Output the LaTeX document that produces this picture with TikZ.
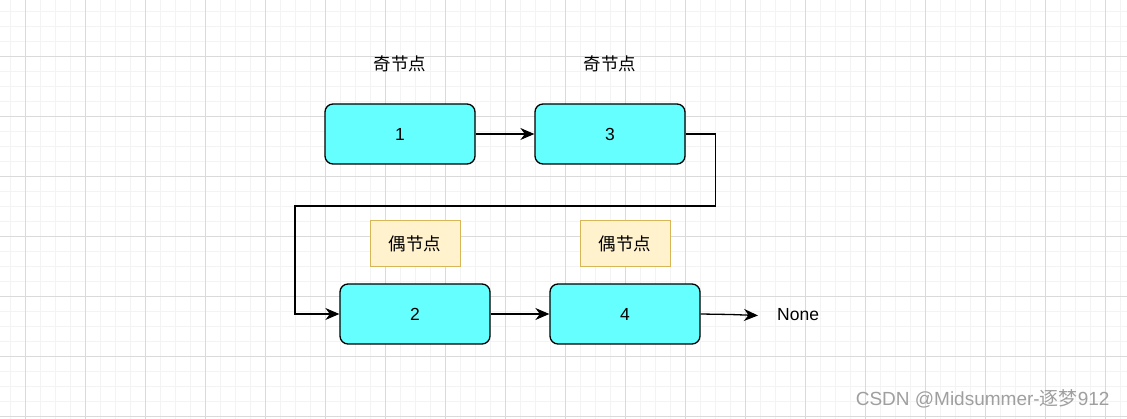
\documentclass[tikz,border=0pt]{standalone}
\usepackage{fontspec}
\setmainfont{Liberation Sans}
\newfontfamily\cjk{Noto Sans CJK SC}
\usetikzlibrary{positioning, arrows.meta, calc}

\definecolor{nodecyan}{HTML}{66FFFF}
\definecolor{notefill}{HTML}{FFF2CC}
\definecolor{notedraw}{HTML}{D6B656}
\definecolor{gridminor}{HTML}{F3F3F3}
\definecolor{gridmajor}{HTML}{DADADA}

\begin{document}
\begin{tikzpicture}[
  x=1pt, y=-1pt,
  every node/.style={font=\fontsize{17.5}{20}\selectfont},
  listnode/.style={draw, line width=1.3pt, rounded corners=8pt, fill=nodecyan,
    minimum width=150pt, minimum height=60pt, inner sep=0pt},
  oddlabel/.style={font=\fontsize{17.5}{20}\selectfont\cjk},
  evenlabel/.style={draw=notedraw, line width=1pt, fill=notefill,
    minimum width=90pt, minimum height=46pt, inner sep=0pt,
    font=\fontsize{17.5}{20}\selectfont\cjk},
  link/.style={-{Stealth[length=14pt, width=12pt, inset=4.5pt]}, line width=1.3pt}
]
% ---- background grid ----
\fill[white] (0,0) rectangle (1127,419);
\useasboundingbox (0,0) rectangle (1127,419);
\foreach \gx in {10,25,...,1125}
  \draw[gridminor, line width=0.8pt] (\gx,0) -- (\gx,419);
\foreach \gy in {11.7,26.7,...,419}
  \draw[gridminor, line width=0.8pt] (0,\gy) -- (1127,\gy);
\foreach \gx in {25,85,...,1125}
  \draw[gridmajor, line width=0.8pt] (\gx,0) -- (\gx,419);
\foreach \gy in {56.7,116.7,...,419}
  \draw[gridmajor, line width=0.8pt] (0,\gy) -- (1127,\gy);

% ---- odd nodes (top row) ----
\node[listnode] (n1) at (400,134) {1};
\node[listnode] (n3) at (610,134) {3};
\node[oddlabel] (odd1) at (400,64) {奇节点};
\node[oddlabel] (odd3) at (610,64) {奇节点};

% ---- even nodes (bottom row) ----
\node[listnode] (n2) at (415,314) {2};
\node[listnode] (n4) at (625,314) {4};
\node[evenlabel] (even2) at (415,244) {偶节点};
\node[evenlabel] (even4) at (625,244) {偶节点};

\node[anchor=west, inner sep=0pt] (none) at (777,315) {None};

% ---- links ----
\draw[link] (n1.east) -- (n3.west);
\draw[link] (n3.east) -- ++(30,0) |- (295,206) |- (n2.west);
\draw[link] (n2.east) -- (n4.west);
\draw[link] (n4.east) -- ++(30,0.5) -- ([xshift=-19pt,yshift=-0.5pt]none.west);

% ---- watermark ----
\node[anchor=east, text=gray!75, font=\fontsize{19}{22}\selectfont]
  (mark) at (1113,399) {CSDN @Midsummer-{\cjk 逐梦}912};
\end{tikzpicture}
\end{document}
